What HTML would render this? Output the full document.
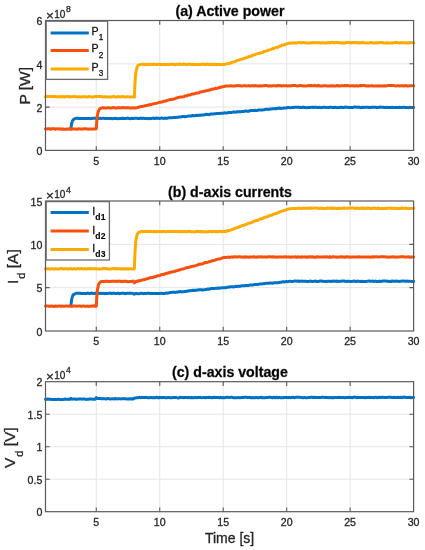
<!DOCTYPE html><html><head><meta charset="utf-8"><style>html,body{margin:0;padding:0;background:#fff;}svg{display:block;}</style></head><body>
<svg width="425" height="550" viewBox="0 0 425 550" font-family='"Liberation Sans", Arial, Helvetica, sans-serif'>
<style>text{stroke:#262626;stroke-width:0.30px;}</style>
<rect width="425" height="550" fill="#fff"/>
<path d="M96.27,20.50V150.40M159.74,20.50V150.40M223.20,20.50V150.40M286.67,20.50V150.40M350.13,20.50V150.40M45.50,107.10H413.60M45.50,63.80H413.60" stroke="#e5e5e5" stroke-width="1" fill="none"/>
<path d="M70.3,129.1L70.9,129.1L71.2,126.4L71.5,124.4L71.8,122.8L72.2,121.6L72.5,120.9L72.8,120.3L73.1,120.0L73.4,119.7L73.7,119.4L74.1,119.2L74.4,119.0L74.7,118.8L75.0,118.7L75.3,118.6L75.6,118.5L76.0,118.4L76.3,118.3L76.6,118.3L76.9,118.2L77.2,118.2L77.6,118.3L77.9,118.4L78.2,118.5L78.5,118.6L78.8,118.6L79.1,118.5L79.5,118.4L79.8,118.4L80.1,118.4L80.4,118.5L80.7,118.5L81.0,118.5L81.4,118.6L81.7,118.6L82.0,118.6L82.3,118.6L82.6,118.6L82.9,118.6L83.3,118.6L83.6,118.5L83.9,118.6L84.2,118.6L84.5,118.6L84.8,118.7L85.2,118.6L85.5,118.5L85.8,118.4L86.1,118.3L86.4,118.4L86.8,118.5L87.1,118.5L87.4,118.6L87.7,118.5L88.0,118.5L88.3,118.4L88.7,118.4L89.0,118.4L89.3,118.5L89.6,118.6L89.9,118.7L91.2,118.6L92.5,118.2L93.7,118.2L95.0,118.2L96.3,118.7L96.6,118.6L96.9,118.5L97.2,118.4L97.5,118.4L97.9,118.4L98.2,118.4L98.5,118.4L98.8,118.5L99.1,118.4L99.4,118.4L99.8,118.3L100.1,118.3L100.4,118.3L100.7,118.3L101.0,118.4L101.3,118.4L101.7,118.4L102.0,118.4L102.3,118.3L102.6,118.3L102.9,118.3L103.3,118.3L103.6,118.3L103.9,118.3L104.2,118.3L104.5,118.4L104.8,118.4L105.2,118.5L105.5,118.5L105.8,118.5L106.1,118.5L106.4,118.5L106.7,118.5L107.1,118.5L107.4,118.6L107.7,118.6L108.0,118.6L108.3,118.6L108.6,118.5L109.0,118.5L109.3,118.5L109.6,118.6L109.9,118.6L110.2,118.7L110.6,118.6L110.9,118.6L111.2,118.6L111.5,118.6L111.8,118.6L112.1,118.7L112.5,118.7L112.8,118.7L113.1,118.6L113.4,118.6L113.7,118.6L114.0,118.5L114.4,118.4L114.7,118.4L115.0,118.3L115.3,118.2L116.6,118.6L117.9,118.7L119.1,118.6L120.4,118.4L121.7,118.5L122.9,118.2L124.2,118.6L125.5,118.4L126.7,118.3L128.0,118.1L129.3,118.6L130.5,118.7L131.8,118.2L133.1,118.6L134.4,118.3L134.7,118.3L135.0,118.3L135.3,118.2L135.6,118.2L135.9,118.2L136.3,118.2L136.6,118.3L136.9,118.3L137.2,118.3L137.5,118.4L137.8,118.5L138.2,118.6L138.5,118.6L138.8,118.6L139.1,118.6L139.4,118.6L139.7,118.5L140.1,118.4L140.4,118.3L140.7,118.1L141.0,118.2L141.3,118.3L141.7,118.4L142.0,118.5L142.3,118.4L142.6,118.3L142.9,118.2L143.2,118.1L143.6,118.2L143.9,118.3L144.2,118.4L144.5,118.5L144.8,118.5L145.1,118.4L145.5,118.4L145.8,118.3L146.1,118.4L146.4,118.5L146.7,118.5L147.0,118.6L147.4,118.6L147.7,118.7L148.0,118.7L148.3,118.7L148.6,118.6L148.9,118.5L149.3,118.5L149.6,118.4L149.9,118.5L150.2,118.6L150.5,118.6L150.9,118.7L151.2,118.6L151.5,118.5L151.8,118.4L152.1,118.3L152.4,118.3L152.8,118.2L153.1,118.2L153.4,118.1L154.7,118.5L155.9,118.1L157.2,118.2L158.5,118.3L159.7,118.5L160.1,118.4L160.4,118.3L160.7,118.3L161.0,118.2L161.3,118.1L161.6,118.1L162.0,118.1L162.3,118.1L162.6,118.2L162.9,118.3L163.2,118.4L163.5,118.5L163.9,118.4L164.2,118.3L164.5,118.2L164.8,118.1L165.1,118.1L165.4,118.2L165.8,118.3L166.1,118.4L166.4,118.3L166.7,118.3L167.0,118.3L167.4,118.2L167.7,118.1L168.0,118.0L168.3,117.9L168.6,117.8L168.9,117.8L169.3,117.8L169.6,117.8L169.9,117.8L170.2,117.7L170.5,117.7L170.8,117.7L171.2,117.7L171.5,117.7L171.8,117.7L172.1,117.7L172.4,117.7L172.7,117.6L173.1,117.6L173.4,117.6L173.7,117.5L174.0,117.5L174.3,117.5L174.7,117.4L175.0,117.4L175.3,117.4L175.6,117.4L175.9,117.3L176.2,117.3L176.6,117.3L176.9,117.4L177.2,117.4L177.5,117.4L177.8,117.3L178.1,117.2L178.5,117.1L178.8,117.0L180.0,116.9L181.3,116.9L182.6,116.5L183.9,116.5L185.1,116.8L186.4,116.4L187.7,116.3L188.9,115.9L190.2,116.0L191.5,116.0L192.7,115.5L194.0,115.8L195.3,115.7L196.5,115.2L197.8,115.5L199.1,115.2L200.4,115.3L201.6,115.0L202.9,115.1L204.2,115.0L205.4,114.4L206.7,114.3L208.0,114.6L209.2,114.7L210.5,114.1L211.8,114.1L213.0,114.1L214.3,113.8L215.6,113.8L216.9,113.6L218.1,113.5L219.4,113.6L220.7,113.3L221.9,113.2L223.2,113.3L223.5,113.2L223.8,113.1L224.2,112.9L224.5,112.8L224.8,112.8L225.1,112.9L225.4,112.9L225.7,113.0L226.1,113.0L226.4,113.0L226.7,113.0L227.0,113.0L227.3,112.9L227.6,112.8L228.0,112.7L228.3,112.6L228.6,112.6L228.9,112.5L229.2,112.5L229.6,112.5L229.9,112.5L230.2,112.6L230.5,112.6L230.8,112.7L231.1,112.6L231.5,112.5L231.8,112.4L232.1,112.2L232.4,112.2L232.7,112.2L233.0,112.1L233.4,112.1L233.7,112.1L234.0,112.1L234.3,112.1L234.6,112.1L234.9,112.2L235.3,112.2L235.6,112.2L235.9,112.2L236.2,112.1L236.5,112.0L236.8,111.8L237.2,111.7L237.5,111.7L237.8,111.7L238.1,111.7L238.4,111.7L238.8,111.7L239.1,111.7L239.4,111.7L239.7,111.6L240.0,111.7L240.3,111.7L240.7,111.8L241.0,111.8L241.3,111.7L241.6,111.7L241.9,111.6L242.2,111.5L243.5,111.6L244.8,111.1L246.1,111.1L247.3,111.2L248.6,111.2L249.9,110.8L251.1,110.6L252.4,110.4L253.7,110.6L254.9,110.2L256.2,110.5L257.5,110.4L258.7,109.9L260.0,109.9L261.3,110.1L262.6,109.9L263.8,109.8L265.1,109.5L266.4,109.2L267.6,109.2L268.9,109.4L270.2,109.0L271.4,108.9L272.7,108.8L274.0,108.7L275.2,108.6L276.5,108.8L277.8,108.2L279.1,108.0L280.3,108.5L281.6,108.3L282.9,108.3L284.1,107.9L285.4,108.1L286.7,107.9L287.0,107.8L287.3,107.7L287.6,107.5L287.9,107.4L288.3,107.5L288.6,107.5L288.9,107.6L289.2,107.7L289.5,107.7L289.8,107.7L290.2,107.7L290.5,107.7L290.8,107.7L291.1,107.6L291.4,107.6L291.7,107.6L292.1,107.5L292.4,107.5L292.7,107.5L293.0,107.4L293.3,107.4L293.7,107.4L294.0,107.3L294.3,107.3L294.6,107.3L294.9,107.3L295.2,107.3L295.6,107.3L295.9,107.3L296.2,107.3L296.5,107.3L296.8,107.2L297.1,107.2L297.5,107.2L297.8,107.2L298.1,107.1L298.4,107.2L298.7,107.3L299.0,107.4L299.4,107.5L299.7,107.4L300.0,107.4L300.3,107.3L300.6,107.3L300.9,107.4L301.3,107.4L301.6,107.5L301.9,107.6L302.2,107.5L302.5,107.4L302.9,107.2L303.2,107.1L303.5,107.3L303.8,107.4L304.1,107.5L304.4,107.6L304.8,107.6L305.1,107.6L305.4,107.5L305.7,107.5L307.0,107.7L308.2,107.6L309.5,107.6L310.8,107.4L312.1,107.1L313.3,107.5L314.6,107.2L315.9,107.3L317.1,107.5L318.4,107.4L319.7,107.3L320.9,107.7L322.2,107.5L323.5,107.3L324.7,107.3L326.0,107.6L327.3,107.4L328.6,107.6L329.8,107.3L331.1,107.2L332.4,107.4L333.6,107.6L334.9,107.2L336.2,107.6L337.4,107.7L338.7,107.6L340.0,107.6L341.2,107.1L342.5,107.5L343.8,107.6L345.1,107.1L346.3,107.3L347.6,107.3L348.9,107.4L350.1,107.4L351.4,107.4L352.7,107.6L353.9,107.1L355.2,107.1L356.5,107.2L357.8,107.2L359.0,107.1L360.3,107.7L361.6,107.6L362.8,107.2L364.1,107.4L365.4,107.3L366.6,107.3L367.9,107.3L369.2,107.5L370.4,107.5L371.7,107.3L373.0,107.2L374.3,107.3L375.5,107.2L376.8,107.4L378.1,107.5L379.3,107.3L380.6,107.1L381.9,107.2L383.1,107.3L384.4,107.5L385.7,107.6L386.9,107.3L388.2,107.6L389.5,107.5L390.8,107.4L392.0,107.3L393.3,107.4L394.6,107.5L395.8,107.4L397.1,107.5L398.4,107.4L399.6,107.2L400.9,107.4L402.2,107.5L403.4,107.1L404.7,107.4L406.0,107.4L407.3,107.6L408.5,107.7L409.8,107.3L411.1,107.6L412.3,107.6L413.6,107.4" stroke="#0072c6" stroke-width="3.00" fill="none" stroke-linejoin="round" stroke-linecap="round"/>
<path d="M45.5,129.0L46.8,129.1L48.0,128.7L49.3,128.8L50.6,129.2L51.8,128.7L53.1,128.8L54.4,128.8L55.7,129.2L56.9,128.8L58.2,128.7L59.5,129.2L60.7,128.8L62.0,129.2L63.3,129.1L64.5,129.2L65.8,129.3L67.1,129.0L68.3,129.2L69.6,128.7L70.9,129.2L71.2,129.1L71.5,129.1L71.8,129.0L72.2,129.0L72.5,129.0L72.8,129.1L73.1,129.1L73.4,129.1L73.7,129.0L74.1,128.9L74.4,128.9L74.7,128.8L75.0,128.9L75.3,129.0L75.6,129.1L76.0,129.1L76.3,129.2L76.6,129.2L76.9,129.2L77.2,129.3L77.6,129.1L77.9,129.0L78.2,128.9L78.5,128.7L78.8,128.8L79.1,128.8L79.5,128.9L79.8,128.9L80.1,128.9L80.4,129.0L80.7,129.0L81.0,129.0L81.4,129.1L81.7,129.1L82.0,129.2L82.3,129.2L82.6,129.1L82.9,129.0L83.3,128.9L83.6,128.8L83.9,128.8L84.2,128.8L84.5,128.8L84.8,128.8L85.2,128.8L85.5,128.8L85.8,128.8L86.1,128.8L86.4,128.9L86.8,129.0L87.1,129.0L87.4,129.1L87.7,129.1L88.0,129.1L88.3,129.1L88.7,129.2L89.0,129.1L89.3,129.0L89.6,129.0L89.9,128.9L91.2,128.9L92.5,128.9L93.7,128.9L95.0,129.0L96.3,128.7L96.6,123.7L96.9,119.8L97.2,117.0L97.5,114.8L97.9,113.2L98.2,111.9L98.5,111.0L98.8,110.4L99.1,109.7L99.4,109.2L99.8,108.8L100.1,108.5L100.4,108.4L100.7,108.3L101.0,108.2L101.3,108.2L101.7,108.0L102.0,107.9L102.3,107.8L102.6,107.7L102.9,107.7L103.3,107.8L103.6,107.9L103.9,107.9L104.2,107.9L104.5,107.9L104.8,108.0L105.2,108.0L105.5,107.9L105.8,107.9L106.1,107.9L106.4,107.9L106.7,107.9L107.1,107.9L107.4,107.8L107.7,107.8L108.0,107.8L108.3,107.8L108.6,107.8L109.0,107.8L109.3,107.8L109.6,107.8L109.9,107.9L110.2,107.9L110.6,107.9L110.9,108.0L111.2,108.0L111.5,108.0L111.8,107.9L112.1,107.8L112.5,107.7L112.8,107.6L113.1,107.6L113.4,107.6L113.7,107.6L114.0,107.6L114.4,107.7L114.7,107.8L115.0,107.9L115.3,107.9L116.6,108.0L117.9,107.8L119.1,107.8L120.4,107.9L121.7,107.6L122.9,107.7L124.2,107.6L125.5,107.9L126.7,107.7L128.0,107.6L129.3,107.9L130.5,108.1L131.8,107.7L133.1,107.9L134.4,107.7L134.7,107.8L135.0,107.9L135.3,107.9L135.6,108.0L135.9,107.9L136.3,107.8L136.6,107.7L136.9,107.7L137.2,107.6L137.5,107.5L137.8,107.4L138.2,107.3L138.5,107.2L138.8,107.1L139.1,107.1L139.4,107.0L139.7,106.9L140.1,106.8L140.4,106.7L140.7,106.6L141.0,106.6L141.3,106.6L141.7,106.6L142.0,106.6L142.3,106.5L142.6,106.4L142.9,106.4L143.2,106.3L143.6,106.2L143.9,106.1L144.2,105.9L144.5,105.8L144.8,105.8L145.1,105.7L145.5,105.7L145.8,105.7L146.1,105.6L146.4,105.5L146.7,105.4L147.0,105.3L147.4,105.3L147.7,105.3L148.0,105.3L148.3,105.3L148.6,105.1L148.9,104.9L149.3,104.8L149.6,104.6L149.9,104.6L150.2,104.7L150.5,104.7L150.9,104.8L151.2,104.6L151.5,104.5L151.8,104.3L152.1,104.2L152.4,104.1L152.8,104.0L153.1,104.0L153.4,103.9L154.7,103.5L155.9,103.4L157.2,103.1L158.5,102.6L159.7,102.3L160.1,102.2L160.4,102.2L160.7,102.2L161.0,102.1L161.3,102.1L161.6,102.0L162.0,101.9L162.3,101.9L162.6,101.7L162.9,101.6L163.2,101.4L163.5,101.3L163.9,101.3L164.2,101.2L164.5,101.2L164.8,101.2L165.1,101.1L165.4,101.1L165.8,101.0L166.1,101.0L166.4,100.9L166.7,100.7L167.0,100.5L167.4,100.4L167.7,100.3L168.0,100.2L168.3,100.1L168.6,99.9L168.9,99.9L169.3,99.8L169.6,99.7L169.9,99.6L170.2,99.6L170.5,99.6L170.8,99.6L171.2,99.6L171.5,99.5L171.8,99.4L172.1,99.3L172.4,99.3L172.7,99.2L173.1,99.2L173.4,99.2L173.7,99.1L174.0,99.0L174.3,98.9L174.7,98.8L175.0,98.7L175.3,98.6L175.6,98.4L175.9,98.2L176.2,98.1L176.6,98.0L176.9,97.9L177.2,97.8L177.5,97.7L177.8,97.6L178.1,97.6L178.5,97.5L178.8,97.4L180.0,97.1L181.3,97.1L182.6,96.9L183.9,96.6L185.1,95.9L186.4,95.9L187.7,95.3L188.9,95.0L190.2,94.9L191.5,94.2L192.7,93.9L194.0,94.0L195.3,93.4L196.5,93.1L197.8,92.9L199.1,92.7L200.4,91.9L201.6,91.8L202.9,91.6L204.2,91.3L205.4,90.8L206.7,90.7L208.0,90.6L209.2,90.0L210.5,89.8L211.8,89.2L213.0,89.0L214.3,88.9L215.6,88.2L216.9,88.4L218.1,88.1L219.4,87.3L220.7,87.5L221.9,86.8L223.2,86.7L223.5,86.7L223.8,86.6L224.2,86.5L224.5,86.5L224.8,86.4L225.1,86.2L225.4,86.1L225.7,86.0L226.1,86.1L226.4,86.1L226.7,86.1L227.0,86.1L227.3,86.1L227.6,86.1L228.0,86.1L228.3,86.1L228.6,86.1L228.9,86.1L229.2,86.1L229.6,86.1L229.9,86.0L230.2,85.9L230.5,85.8L230.8,85.7L231.1,85.8L231.5,85.9L231.8,85.9L232.1,86.0L232.4,86.0L232.7,86.1L233.0,86.1L233.4,86.1L233.7,86.1L234.0,86.0L234.3,86.0L234.6,85.9L234.9,85.9L235.3,85.9L235.6,85.9L235.9,85.8L236.2,85.8L236.5,85.7L236.8,85.6L237.2,85.6L237.5,85.6L237.8,85.7L238.1,85.7L238.4,85.8L238.8,85.8L239.1,85.8L239.4,85.7L239.7,85.7L240.0,85.8L240.3,85.8L240.7,85.9L241.0,85.9L241.3,85.9L241.6,85.9L241.9,85.9L242.2,85.9L243.5,85.8L244.8,85.6L246.1,85.9L247.3,85.9L248.6,85.6L249.9,86.0L251.1,85.9L252.4,85.6L253.7,86.1L254.9,85.6L256.2,85.7L257.5,85.9L258.7,85.9L260.0,85.8L261.3,85.9L262.6,85.8L263.8,85.7L265.1,85.6L266.4,85.5L267.6,85.9L268.9,86.0L270.2,85.8L271.4,85.9L272.7,85.7L274.0,85.7L275.2,85.7L276.5,86.0L277.8,85.5L279.1,85.8L280.3,85.6L281.6,86.0L282.9,85.7L284.1,85.7L285.4,85.7L286.7,85.8L287.0,85.9L287.3,85.9L287.6,85.9L287.9,86.0L288.3,85.9L288.6,85.8L288.9,85.8L289.2,85.7L289.5,85.8L289.8,85.9L290.2,85.9L290.5,86.0L290.8,85.9L291.1,85.8L291.4,85.7L291.7,85.6L292.1,85.6L292.4,85.6L292.7,85.6L293.0,85.7L293.3,85.6L293.7,85.6L294.0,85.6L294.3,85.6L294.6,85.6L294.9,85.6L295.2,85.6L295.6,85.6L295.9,85.7L296.2,85.8L296.5,85.9L296.8,86.0L297.1,86.0L297.5,86.0L297.8,85.9L298.1,85.9L298.4,85.9L298.7,85.8L299.0,85.7L299.4,85.6L299.7,85.6L300.0,85.6L300.3,85.6L300.6,85.6L300.9,85.6L301.3,85.7L301.6,85.7L301.9,85.7L302.2,85.8L302.5,85.8L302.9,85.9L303.2,85.9L303.5,86.0L303.8,86.0L304.1,86.0L304.4,86.0L304.8,86.0L305.1,86.0L305.4,86.0L305.7,85.9L307.0,85.9L308.2,85.6L309.5,85.7L310.8,85.6L312.1,85.8L313.3,85.8L314.6,85.6L315.9,85.7L317.1,86.0L318.4,85.5L319.7,86.0L320.9,86.0L322.2,86.1L323.5,85.7L324.7,85.8L326.0,85.8L327.3,85.9L328.6,86.1L329.8,85.9L331.1,85.7L332.4,86.0L333.6,85.8L334.9,85.9L336.2,85.9L337.4,85.5L338.7,86.0L340.0,85.9L341.2,85.8L342.5,85.8L343.8,85.8L345.1,85.6L346.3,85.8L347.6,85.5L348.9,85.8L350.1,85.9L351.4,85.8L352.7,85.8L353.9,86.1L355.2,86.0L356.5,85.6L357.8,86.0L359.0,85.9L360.3,85.5L361.6,85.7L362.8,85.6L364.1,85.5L365.4,85.8L366.6,86.1L367.9,85.7L369.2,86.0L370.4,85.9L371.7,85.6L373.0,86.0L374.3,85.9L375.5,86.1L376.8,85.9L378.1,85.9L379.3,85.7L380.6,86.0L381.9,86.1L383.1,86.0L384.4,85.8L385.7,86.0L386.9,85.8L388.2,85.6L389.5,85.5L390.8,85.5L392.0,85.6L393.3,85.6L394.6,85.8L395.8,85.9L397.1,85.8L398.4,85.8L399.6,85.9L400.9,85.7L402.2,85.8L403.4,86.0L404.7,85.7L406.0,85.6L407.3,86.0L408.5,85.9L409.8,85.7L411.1,85.7L412.3,85.8L413.6,85.8" stroke="#f74f0c" stroke-width="3.00" fill="none" stroke-linejoin="round" stroke-linecap="round"/>
<path d="M45.5,96.8L46.8,96.6L48.0,96.5L49.3,96.6L50.6,96.6L51.8,96.8L53.1,96.5L54.4,96.5L55.7,96.8L56.9,96.7L58.2,96.9L59.5,96.5L60.7,96.7L62.0,96.7L63.3,96.5L64.5,97.1L65.8,96.6L67.1,96.6L68.3,96.8L69.6,96.6L70.9,96.9L71.2,96.8L71.5,96.8L71.8,96.7L72.2,96.7L72.5,96.7L72.8,96.6L73.1,96.6L73.4,96.6L73.7,96.6L74.1,96.6L74.4,96.5L74.7,96.5L75.0,96.6L75.3,96.7L75.6,96.8L76.0,96.9L76.3,96.9L76.6,96.8L76.9,96.7L77.2,96.7L77.6,96.7L77.9,96.8L78.2,96.9L78.5,97.0L78.8,96.9L79.1,96.9L79.5,96.8L79.8,96.8L80.1,96.8L80.4,96.9L80.7,97.0L81.0,97.1L81.4,97.0L81.7,96.9L82.0,96.8L82.3,96.7L82.6,96.7L82.9,96.7L83.3,96.7L83.6,96.6L83.9,96.7L84.2,96.7L84.5,96.7L84.8,96.7L85.2,96.7L85.5,96.8L85.8,96.9L86.1,97.0L86.4,97.0L86.8,96.9L87.1,96.9L87.4,96.9L87.7,96.8L88.0,96.8L88.3,96.7L88.7,96.7L89.0,96.7L89.3,96.6L89.6,96.6L89.9,96.6L91.2,96.9L92.5,97.1L93.7,96.9L95.0,96.5L96.3,96.5L96.6,96.5L96.9,96.5L97.2,96.5L97.5,96.6L97.9,96.6L98.2,96.6L98.5,96.6L98.8,96.6L99.1,96.6L99.4,96.6L99.8,96.5L100.1,96.5L100.4,96.5L100.7,96.5L101.0,96.5L101.3,96.5L101.7,96.6L102.0,96.7L102.3,96.8L102.6,96.9L102.9,96.9L103.3,97.0L103.6,97.0L103.9,97.0L104.2,96.9L104.5,96.8L104.8,96.7L105.2,96.6L105.5,96.7L105.8,96.9L106.1,97.0L106.4,97.1L106.7,97.0L107.1,96.9L107.4,96.9L107.7,96.8L108.0,96.8L108.3,96.9L108.6,96.9L109.0,97.0L109.3,97.0L109.6,97.0L109.9,97.0L110.2,97.1L110.6,97.1L110.9,97.1L111.2,97.1L111.5,97.1L111.8,96.9L112.1,96.8L112.5,96.7L112.8,96.5L113.1,96.6L113.4,96.6L113.7,96.6L114.0,96.7L114.4,96.7L114.7,96.8L115.0,96.8L115.3,96.9L116.6,97.1L117.9,96.6L119.1,96.7L120.4,97.0L121.7,96.6L122.9,96.7L124.2,96.7L125.5,96.9L126.7,97.1L128.0,96.6L129.3,96.9L130.5,96.9L131.8,97.0L133.1,96.8L134.4,97.1L134.7,89.1L135.0,83.1L135.3,78.5L135.6,75.0L135.9,72.4L136.3,70.5L136.6,69.0L136.9,67.9L137.2,67.0L137.5,66.3L137.8,65.8L138.2,65.4L138.5,65.2L138.8,65.1L139.1,65.0L139.4,64.9L139.7,64.8L140.1,64.7L140.4,64.6L140.7,64.5L141.0,64.5L141.3,64.4L141.7,64.3L142.0,64.3L142.3,64.3L142.6,64.3L142.9,64.2L143.2,64.2L143.6,64.3L143.9,64.4L144.2,64.5L144.5,64.5L144.8,64.5L145.1,64.5L145.5,64.5L145.8,64.5L146.1,64.5L146.4,64.5L146.7,64.5L147.0,64.5L147.4,64.5L147.7,64.4L148.0,64.4L148.3,64.3L148.6,64.3L148.9,64.4L149.3,64.4L149.6,64.4L149.9,64.3L150.2,64.3L150.5,64.2L150.9,64.2L151.2,64.3L151.5,64.4L151.8,64.4L152.1,64.5L152.4,64.4L152.8,64.3L153.1,64.2L153.4,64.1L154.7,64.4L155.9,64.6L157.2,64.5L158.5,64.2L159.7,64.2L160.1,64.3L160.4,64.4L160.7,64.5L161.0,64.6L161.3,64.6L161.6,64.5L162.0,64.5L162.3,64.5L162.6,64.5L162.9,64.6L163.2,64.6L163.5,64.6L163.9,64.6L164.2,64.6L164.5,64.6L164.8,64.6L165.1,64.6L165.4,64.5L165.8,64.4L166.1,64.4L166.4,64.4L166.7,64.5L167.0,64.6L167.4,64.6L167.7,64.6L168.0,64.6L168.3,64.6L168.6,64.5L168.9,64.5L169.3,64.4L169.6,64.4L169.9,64.3L170.2,64.3L170.5,64.3L170.8,64.3L171.2,64.3L171.5,64.3L171.8,64.2L172.1,64.2L172.4,64.1L172.7,64.2L173.1,64.2L173.4,64.3L173.7,64.3L174.0,64.4L174.3,64.5L174.7,64.6L175.0,64.7L175.3,64.5L175.6,64.4L175.9,64.3L176.2,64.2L176.6,64.2L176.9,64.3L177.2,64.4L177.5,64.4L177.8,64.4L178.1,64.3L178.5,64.2L178.8,64.2L180.0,64.1L181.3,64.5L182.6,64.2L183.9,64.1L185.1,64.2L186.4,64.5L187.7,64.5L188.9,64.1L190.2,64.2L191.5,64.7L192.7,64.2L194.0,64.4L195.3,64.4L196.5,64.6L197.8,64.5L199.1,64.6L200.4,64.4L201.6,64.2L202.9,64.2L204.2,64.1L205.4,64.6L206.7,64.2L208.0,64.1L209.2,64.7L210.5,64.2L211.8,64.6L213.0,64.2L214.3,64.4L215.6,64.2L216.9,64.6L218.1,64.5L219.4,64.5L220.7,64.6L221.9,64.6L223.2,64.3L223.5,64.3L223.8,64.4L224.2,64.4L224.5,64.4L224.8,64.3L225.1,64.3L225.4,64.2L225.7,64.1L226.1,64.0L226.4,63.9L226.7,63.7L227.0,63.6L227.3,63.7L227.6,63.7L228.0,63.7L228.3,63.7L228.6,63.6L228.9,63.5L229.2,63.4L229.6,63.2L229.9,63.2L230.2,63.1L230.5,63.0L230.8,63.0L231.1,62.8L231.5,62.6L231.8,62.4L232.1,62.2L232.4,62.2L232.7,62.1L233.0,62.1L233.4,62.0L233.7,61.9L234.0,61.8L234.3,61.7L234.6,61.5L234.9,61.5L235.3,61.4L235.6,61.3L235.9,61.3L236.2,61.1L236.5,60.9L236.8,60.7L237.2,60.5L237.5,60.4L237.8,60.3L238.1,60.3L238.4,60.2L238.8,60.1L239.1,60.0L239.4,59.9L239.7,59.8L240.0,59.7L240.3,59.5L240.7,59.3L241.0,59.2L241.3,59.1L241.6,59.1L241.9,59.1L242.2,59.0L243.5,58.7L244.8,58.1L246.1,57.8L247.3,57.3L248.6,56.7L249.9,56.3L251.1,56.3L252.4,55.4L253.7,55.1L254.9,54.4L256.2,54.1L257.5,53.6L258.7,53.6L260.0,53.1L261.3,52.7L262.6,52.4L263.8,51.7L265.1,51.5L266.4,50.8L267.6,50.3L268.9,50.2L270.2,49.7L271.4,49.3L272.7,48.6L274.0,48.4L275.2,47.7L276.5,47.6L277.8,47.2L279.1,46.3L280.3,46.3L281.6,45.4L282.9,44.9L284.1,44.9L285.4,44.2L286.7,43.9L287.0,43.8L287.3,43.7L287.6,43.7L287.9,43.6L288.3,43.4L288.6,43.3L288.9,43.2L289.2,43.0L289.5,43.1L289.8,43.1L290.2,43.2L290.5,43.3L290.8,43.2L291.1,43.1L291.4,43.0L291.7,42.9L292.1,42.9L292.4,42.9L292.7,42.9L293.0,42.9L293.3,42.9L293.7,42.9L294.0,42.8L294.3,42.8L294.6,42.9L294.9,42.9L295.2,43.0L295.6,43.0L295.9,43.0L296.2,43.0L296.5,43.0L296.8,43.0L297.1,42.9L297.5,42.8L297.8,42.8L298.1,42.7L298.4,42.7L298.7,42.6L299.0,42.6L299.4,42.6L299.7,42.6L300.0,42.6L300.3,42.7L300.6,42.7L300.9,42.7L301.3,42.7L301.6,42.7L301.9,42.8L302.2,42.7L302.5,42.7L302.9,42.6L303.2,42.6L303.5,42.6L303.8,42.6L304.1,42.6L304.4,42.6L304.8,42.7L305.1,42.8L305.4,42.9L305.7,43.0L307.0,42.9L308.2,43.1L309.5,43.1L310.8,43.0L312.1,42.7L313.3,42.6L314.6,42.7L315.9,42.8L317.1,42.8L318.4,42.8L319.7,42.7L320.9,43.0L322.2,42.7L323.5,42.8L324.7,43.0L326.0,43.0L327.3,42.7L328.6,42.6L329.8,43.0L331.1,42.5L332.4,42.6L333.6,42.8L334.9,42.8L336.2,42.6L337.4,42.5L338.7,42.6L340.0,43.0L341.2,42.8L342.5,43.1L343.8,43.0L345.1,43.1L346.3,42.5L347.6,42.6L348.9,42.5L350.1,42.8L351.4,42.7L352.7,42.5L353.9,42.8L355.2,42.6L356.5,42.7L357.8,42.6L359.0,43.0L360.3,42.8L361.6,42.7L362.8,42.5L364.1,42.8L365.4,42.9L366.6,42.9L367.9,43.0L369.2,43.0L370.4,42.6L371.7,42.6L373.0,43.0L374.3,43.0L375.5,42.8L376.8,43.0L378.1,42.8L379.3,42.7L380.6,42.6L381.9,42.5L383.1,42.9L384.4,43.0L385.7,43.0L386.9,42.8L388.2,42.9L389.5,43.1L390.8,43.0L392.0,42.9L393.3,42.7L394.6,42.8L395.8,42.6L397.1,42.6L398.4,42.9L399.6,43.1L400.9,42.8L402.2,42.7L403.4,42.7L404.7,42.8L406.0,43.0L407.3,42.8L408.5,43.1L409.8,42.6L411.1,42.7L412.3,42.8L413.6,42.8" stroke="#fdaa00" stroke-width="3.00" fill="none" stroke-linejoin="round" stroke-linecap="round"/>
<path d="M96.27,150.40v-4.2M96.27,20.50v4.2M159.74,150.40v-4.2M159.74,20.50v4.2M223.20,150.40v-4.2M223.20,20.50v4.2M286.67,150.40v-4.2M286.67,20.50v4.2M350.13,150.40v-4.2M350.13,20.50v4.2M45.50,107.10h4.2M413.60,107.10h-4.2M45.50,63.80h4.2M413.60,63.80h-4.2" stroke="#5a5a5a" stroke-width="1.1" fill="none"/>
<rect x="45.50" y="20.50" width="368.10" height="129.90" fill="none" stroke="#5a5a5a" stroke-width="1.2"/>
<text x="96.27" y="164.60" font-size="10.60" fill="#262626" text-anchor="middle">5</text>
<text x="159.74" y="164.60" font-size="10.60" fill="#262626" text-anchor="middle">10</text>
<text x="223.20" y="164.60" font-size="10.60" fill="#262626" text-anchor="middle">15</text>
<text x="286.67" y="164.60" font-size="10.60" fill="#262626" text-anchor="middle">20</text>
<text x="350.13" y="164.60" font-size="10.60" fill="#262626" text-anchor="middle">25</text>
<text x="413.60" y="164.60" font-size="10.60" fill="#262626" text-anchor="middle">30</text>
<text x="42.30" y="155.10" font-size="10.60" fill="#262626" text-anchor="end">0</text>
<text x="42.30" y="111.80" font-size="10.60" fill="#262626" text-anchor="end">2</text>
<text x="42.30" y="68.50" font-size="10.60" fill="#262626" text-anchor="end">4</text>
<text x="42.30" y="25.20" font-size="10.60" fill="#262626" text-anchor="end">6</text>
<text y="17.70" fill="#262626"><tspan x="45.9" dy="1.8" font-size="13.5">×</tspan><tspan x="54.3" dy="-1.8" font-size="10">10</tspan><tspan x="65.9" font-size="8.6" dy="-5.5">8</tspan></text>
<text x="229.95" y="16.10" font-size="14.20" font-weight="bold" fill="#000" stroke="#000" stroke-width="0.25" text-anchor="middle">(a) Active power</text>
<path d="M96.27,201.00V331.00M159.74,201.00V331.00M223.20,201.00V331.00M286.67,201.00V331.00M350.13,201.00V331.00M45.50,287.67H413.60M45.50,244.33H413.60" stroke="#e5e5e5" stroke-width="1" fill="none"/>
<path d="M70.3,306.0L70.9,306.0L71.2,302.9L71.5,300.5L71.8,298.7L72.2,297.4L72.5,296.4L72.8,295.6L73.1,295.0L73.4,294.6L73.7,294.4L74.1,294.3L74.4,294.2L74.7,294.1L75.0,293.9L75.3,293.7L75.6,293.5L76.0,293.3L76.3,293.3L76.6,293.3L76.9,293.3L77.2,293.3L77.6,293.3L77.9,293.3L78.2,293.2L78.5,293.2L78.8,293.2L79.1,293.2L79.5,293.2L79.8,293.2L80.1,293.2L80.4,293.3L80.7,293.4L81.0,293.4L81.4,293.4L81.7,293.5L82.0,293.5L82.3,293.5L82.6,293.6L82.9,293.6L83.3,293.6L83.6,293.6L83.9,293.6L84.2,293.5L84.5,293.5L84.8,293.5L85.2,293.5L85.5,293.5L85.8,293.6L86.1,293.6L86.4,293.5L86.8,293.3L87.1,293.2L87.4,293.1L87.7,293.1L88.0,293.2L88.3,293.2L88.7,293.3L89.0,293.4L89.3,293.5L89.6,293.6L89.9,293.7L91.2,293.1L92.5,293.3L93.7,293.4L95.0,293.3L96.3,293.4L96.6,293.4L96.9,293.3L97.2,293.2L97.5,293.1L97.9,293.2L98.2,293.2L98.5,293.2L98.8,293.2L99.1,293.3L99.4,293.5L99.8,293.6L100.1,293.7L100.4,293.6L100.7,293.4L101.0,293.3L101.3,293.2L101.7,293.3L102.0,293.4L102.3,293.5L102.6,293.6L102.9,293.5L103.3,293.4L103.6,293.3L103.9,293.2L104.2,293.3L104.5,293.5L104.8,293.6L105.2,293.7L105.5,293.6L105.8,293.6L106.1,293.6L106.4,293.5L106.7,293.5L107.1,293.5L107.4,293.5L107.7,293.5L108.0,293.4L108.3,293.3L108.6,293.3L109.0,293.2L109.3,293.2L109.6,293.2L109.9,293.1L110.2,293.1L110.6,293.2L110.9,293.3L111.2,293.4L111.5,293.6L111.8,293.5L112.1,293.4L112.5,293.3L112.8,293.2L113.1,293.2L113.4,293.2L113.7,293.2L114.0,293.2L114.4,293.3L114.7,293.4L115.0,293.5L115.3,293.6L116.6,293.6L117.9,293.1L119.1,293.7L120.4,293.4L121.7,293.3L122.9,293.2L124.2,293.3L125.5,293.7L126.7,293.3L128.0,293.2L129.3,293.2L130.5,293.2L131.8,293.3L133.1,293.6L134.4,294.3L134.7,294.0L135.0,293.7L135.3,293.5L135.6,293.4L135.9,293.5L136.3,293.5L136.6,293.6L136.9,293.7L137.2,293.7L137.5,293.7L137.8,293.7L138.2,293.7L138.5,293.7L138.8,293.7L139.1,293.7L139.4,293.7L139.7,293.6L140.1,293.5L140.4,293.4L140.7,293.2L141.0,293.3L141.3,293.3L141.7,293.3L142.0,293.3L142.3,293.4L142.6,293.5L142.9,293.6L143.2,293.7L143.6,293.6L143.9,293.5L144.2,293.5L144.5,293.4L144.8,293.4L145.1,293.5L145.5,293.5L145.8,293.5L146.1,293.5L146.4,293.4L146.7,293.3L147.0,293.3L147.4,293.2L147.7,293.2L148.0,293.2L148.3,293.1L148.6,293.2L148.9,293.2L149.3,293.3L149.6,293.3L149.9,293.4L150.2,293.4L150.5,293.5L150.9,293.5L151.2,293.6L151.5,293.6L151.8,293.6L152.1,293.6L152.4,293.5L152.8,293.5L153.1,293.5L153.4,293.4L154.7,293.4L155.9,293.4L157.2,293.4L158.5,293.4L159.7,293.6L160.1,293.5L160.4,293.4L160.7,293.3L161.0,293.2L161.3,293.2L161.6,293.3L162.0,293.3L162.3,293.4L162.6,293.4L162.9,293.4L163.2,293.5L163.5,293.5L163.9,293.5L164.2,293.4L164.5,293.4L164.8,293.4L165.1,293.2L165.4,293.1L165.8,293.0L166.1,292.9L166.4,293.0L166.7,293.0L167.0,293.1L167.4,293.2L167.7,293.2L168.0,293.1L168.3,293.1L168.6,293.0L168.9,292.9L169.3,292.8L169.6,292.7L169.9,292.5L170.2,292.5L170.5,292.5L170.8,292.5L171.2,292.5L171.5,292.4L171.8,292.4L172.1,292.3L172.4,292.3L172.7,292.3L173.1,292.2L173.4,292.2L173.7,292.1L174.0,292.2L174.3,292.3L174.7,292.4L175.0,292.5L175.3,292.4L175.6,292.3L175.9,292.2L176.2,292.1L176.6,292.1L176.9,292.2L177.2,292.2L177.5,292.2L177.8,292.1L178.1,291.9L178.5,291.8L178.8,291.7L180.0,291.5L181.3,291.9L182.6,291.7L183.9,291.7L185.1,291.4L186.4,291.2L187.7,291.2L188.9,290.7L190.2,290.8L191.5,290.6L192.7,290.3L194.0,290.5L195.3,290.2L196.5,290.2L197.8,290.0L199.1,289.8L200.4,289.7L201.6,289.8L202.9,289.9L204.2,289.7L205.4,289.6L206.7,289.4L208.0,289.0L209.2,289.3L210.5,288.7L211.8,288.5L213.0,288.6L214.3,288.6L215.6,288.3L216.9,288.3L218.1,288.0L219.4,288.3L220.7,287.9L221.9,287.8L223.2,287.7L223.5,287.7L223.8,287.7L224.2,287.7L224.5,287.8L224.8,287.7L225.1,287.7L225.4,287.7L225.7,287.7L226.1,287.6L226.4,287.5L226.7,287.4L227.0,287.3L227.3,287.3L227.6,287.2L228.0,287.2L228.3,287.1L228.6,287.1L228.9,287.1L229.2,287.1L229.6,287.1L229.9,287.0L230.2,286.9L230.5,286.8L230.8,286.7L231.1,286.7L231.5,286.7L231.8,286.7L232.1,286.8L232.4,286.8L232.7,286.8L233.0,286.9L233.4,286.9L233.7,286.9L234.0,286.8L234.3,286.8L234.6,286.7L234.9,286.6L235.3,286.5L235.6,286.3L235.9,286.2L236.2,286.3L236.5,286.4L236.8,286.4L237.2,286.5L237.5,286.4L237.8,286.3L238.1,286.2L238.4,286.1L238.8,286.2L239.1,286.2L239.4,286.3L239.7,286.4L240.0,286.2L240.3,286.1L240.7,286.0L241.0,285.9L241.3,285.8L241.6,285.8L241.9,285.7L242.2,285.7L243.5,285.7L244.8,285.8L246.1,285.4L247.3,285.6L248.6,285.4L249.9,285.0L251.1,284.9L252.4,284.9L253.7,284.7L254.9,284.6L256.2,284.6L257.5,284.6L258.7,284.3L260.0,283.9L261.3,283.9L262.6,283.8L263.8,283.8L265.1,283.4L266.4,283.3L267.6,283.3L268.9,283.2L270.2,282.9L271.4,283.1L272.7,283.2L274.0,282.8L275.2,282.8L276.5,282.8L277.8,282.7L279.1,282.6L280.3,282.2L281.6,282.2L282.9,281.7L284.1,282.1L285.4,281.7L286.7,281.6L287.0,281.6L287.3,281.7L287.6,281.7L287.9,281.7L288.3,281.6L288.6,281.5L288.9,281.4L289.2,281.3L289.5,281.3L289.8,281.3L290.2,281.2L290.5,281.2L290.8,281.3L291.1,281.4L291.4,281.5L291.7,281.6L292.1,281.5L292.4,281.5L292.7,281.4L293.0,281.4L293.3,281.3L293.7,281.2L294.0,281.2L294.3,281.1L294.6,281.1L294.9,281.1L295.2,281.0L295.6,281.0L295.9,281.1L296.2,281.1L296.5,281.2L296.8,281.2L297.1,281.2L297.5,281.1L297.8,281.1L298.1,281.0L298.4,281.1L298.7,281.3L299.0,281.4L299.4,281.5L299.7,281.4L300.0,281.3L300.3,281.2L300.6,281.1L300.9,281.1L301.3,281.1L301.6,281.2L301.9,281.2L302.2,281.2L302.5,281.2L302.9,281.2L303.2,281.2L303.5,281.3L303.8,281.3L304.1,281.3L304.4,281.3L304.8,281.3L305.1,281.3L305.4,281.3L305.7,281.3L307.0,281.4L308.2,281.4L309.5,281.3L310.8,281.1L312.1,281.6L313.3,281.4L314.6,281.1L315.9,281.3L317.1,281.5L318.4,281.6L319.7,281.0L320.9,281.0L322.2,281.3L323.5,281.3L324.7,281.5L326.0,281.5L327.3,281.2L328.6,281.3L329.8,281.3L331.1,281.5L332.4,281.1L333.6,281.2L334.9,281.1L336.2,281.4L337.4,281.0L338.7,281.6L340.0,281.3L341.2,281.3L342.5,281.1L343.8,281.1L345.1,281.3L346.3,281.5L347.6,281.3L348.9,281.2L350.1,281.6L351.4,281.4L352.7,281.3L353.9,281.1L355.2,281.2L356.5,281.5L357.8,281.1L359.0,281.3L360.3,281.4L361.6,281.2L362.8,281.5L364.1,281.5L365.4,281.5L366.6,281.4L367.9,281.1L369.2,281.0L370.4,281.3L371.7,281.2L373.0,281.1L374.3,281.5L375.5,281.1L376.8,281.5L378.1,281.6L379.3,281.1L380.6,281.5L381.9,281.2L383.1,281.1L384.4,281.1L385.7,281.0L386.9,281.3L388.2,281.2L389.5,281.5L390.8,281.5L392.0,281.0L393.3,281.2L394.6,281.2L395.8,281.1L397.1,281.2L398.4,281.2L399.6,281.4L400.9,281.2L402.2,281.1L403.4,281.1L404.7,281.3L406.0,281.3L407.3,281.1L408.5,281.4L409.8,281.1L411.1,281.4L412.3,281.4L413.6,281.3" stroke="#0072c6" stroke-width="3.00" fill="none" stroke-linejoin="round" stroke-linecap="round"/>
<path d="M45.5,306.1L46.8,306.1L48.0,306.0L49.3,306.3L50.6,306.2L51.8,305.9L53.1,306.3L54.4,306.4L55.7,306.0L56.9,306.4L58.2,306.1L59.5,305.9L60.7,306.2L62.0,306.0L63.3,306.2L64.5,306.2L65.8,305.9L67.1,306.1L68.3,306.3L69.6,306.1L70.9,306.1L71.2,306.2L71.5,306.2L71.8,306.3L72.2,306.3L72.5,306.3L72.8,306.2L73.1,306.1L73.4,306.1L73.7,306.1L74.1,306.1L74.4,306.1L74.7,306.1L75.0,306.1L75.3,306.1L75.6,306.1L76.0,306.1L76.3,306.2L76.6,306.2L76.9,306.3L77.2,306.3L77.6,306.2L77.9,306.1L78.2,306.0L78.5,305.9L78.8,305.9L79.1,305.9L79.5,305.9L79.8,305.9L80.1,306.0L80.4,306.1L80.7,306.2L81.0,306.3L81.4,306.2L81.7,306.2L82.0,306.2L82.3,306.1L82.6,306.1L82.9,306.1L83.3,306.0L83.6,306.0L83.9,306.1L84.2,306.2L84.5,306.2L84.8,306.3L85.2,306.3L85.5,306.3L85.8,306.3L86.1,306.3L86.4,306.3L86.8,306.2L87.1,306.2L87.4,306.1L87.7,306.2L88.0,306.3L88.3,306.3L88.7,306.4L89.0,306.4L89.3,306.3L89.6,306.3L89.9,306.3L91.2,306.2L92.5,306.0L93.7,305.8L95.0,306.2L96.3,306.2L96.6,300.2L96.9,295.6L97.2,292.1L97.5,289.4L97.9,287.5L98.2,286.0L98.5,284.9L98.8,284.1L99.1,283.4L99.4,282.9L99.8,282.6L100.1,282.3L100.4,282.1L100.7,281.9L101.0,281.7L101.3,281.5L101.7,281.5L102.0,281.6L102.3,281.6L102.6,281.6L102.9,281.6L103.3,281.5L103.6,281.5L103.9,281.5L104.2,281.4L104.5,281.4L104.8,281.4L105.2,281.3L105.5,281.3L105.8,281.3L106.1,281.2L106.4,281.2L106.7,281.2L107.1,281.3L107.4,281.4L107.7,281.4L108.0,281.4L108.3,281.4L108.6,281.3L109.0,281.3L109.3,281.4L109.6,281.4L109.9,281.5L110.2,281.5L110.6,281.5L110.9,281.4L111.2,281.3L111.5,281.2L111.8,281.2L112.1,281.3L112.5,281.3L112.8,281.3L113.1,281.3L113.4,281.3L113.7,281.2L114.0,281.2L114.4,281.2L114.7,281.3L115.0,281.3L115.3,281.3L116.6,281.4L117.9,281.2L119.1,281.1L120.4,281.4L121.7,281.2L122.9,281.4L124.2,281.2L125.5,281.2L126.7,281.4L128.0,281.7L129.3,281.6L130.5,281.4L131.8,281.3L133.1,281.1L134.4,282.8L134.7,282.3L135.0,281.9L135.3,281.7L135.6,281.5L135.9,281.5L136.3,281.5L136.6,281.5L136.9,281.5L137.2,281.3L137.5,281.1L137.8,280.9L138.2,280.7L138.5,280.8L138.8,280.9L139.1,280.9L139.4,281.0L139.7,280.8L140.1,280.7L140.4,280.5L140.7,280.4L141.0,280.3L141.3,280.2L141.7,280.1L142.0,280.1L142.3,280.0L142.6,279.8L142.9,279.7L143.2,279.6L143.6,279.7L143.9,279.7L144.2,279.7L144.5,279.7L144.8,279.5L145.1,279.3L145.5,279.1L145.8,278.9L146.1,278.9L146.4,278.9L146.7,278.8L147.0,278.8L147.4,278.7L147.7,278.6L148.0,278.5L148.3,278.4L148.6,278.3L148.9,278.2L149.3,278.0L149.6,277.9L149.9,277.8L150.2,277.7L150.5,277.7L150.9,277.6L151.2,277.6L151.5,277.6L151.8,277.7L152.1,277.7L152.4,277.6L152.8,277.4L153.1,277.3L153.4,277.2L154.7,276.8L155.9,276.6L157.2,275.8L158.5,275.8L159.7,275.5L160.1,275.3L160.4,275.1L160.7,275.0L161.0,274.8L161.3,274.7L161.6,274.7L162.0,274.6L162.3,274.6L162.6,274.6L162.9,274.6L163.2,274.5L163.5,274.5L163.9,274.4L164.2,274.2L164.5,274.0L164.8,273.8L165.1,273.8L165.4,273.8L165.8,273.7L166.1,273.7L166.4,273.5L166.7,273.4L167.0,273.2L167.4,273.0L167.7,273.0L168.0,273.0L168.3,273.0L168.6,273.0L168.9,272.8L169.3,272.7L169.6,272.5L169.9,272.4L170.2,272.3L170.5,272.3L170.8,272.2L171.2,272.2L171.5,272.1L171.8,272.0L172.1,271.8L172.4,271.7L172.7,271.7L173.1,271.7L173.4,271.7L173.7,271.7L174.0,271.6L174.3,271.5L174.7,271.4L175.0,271.3L175.3,271.1L175.6,271.0L175.9,270.9L176.2,270.8L176.6,270.7L176.9,270.7L177.2,270.6L177.5,270.5L177.8,270.4L178.1,270.3L178.5,270.2L178.8,270.0L180.0,269.9L181.3,269.2L182.6,269.1L183.9,268.7L185.1,268.3L186.4,267.7L187.7,267.4L188.9,267.4L190.2,266.8L191.5,266.7L192.7,266.2L194.0,266.2L195.3,265.7L196.5,265.3L197.8,264.8L199.1,264.2L200.4,264.2L201.6,263.9L202.9,263.7L204.2,262.9L205.4,262.5L206.7,262.7L208.0,262.2L209.2,261.7L210.5,261.5L211.8,260.8L213.0,260.7L214.3,260.4L215.6,260.0L216.9,259.4L218.1,259.0L219.4,259.0L220.7,258.8L221.9,258.0L223.2,257.6L223.5,257.5L223.8,257.4L224.2,257.4L224.5,257.3L224.8,257.4L225.1,257.4L225.4,257.5L225.7,257.6L226.1,257.5L226.4,257.4L226.7,257.3L227.0,257.2L227.3,257.2L227.6,257.2L228.0,257.2L228.3,257.1L228.6,257.2L228.9,257.3L229.2,257.3L229.6,257.4L229.9,257.3L230.2,257.3L230.5,257.2L230.8,257.1L231.1,257.1L231.5,257.0L231.8,257.0L232.1,256.9L232.4,257.0L232.7,257.0L233.0,257.1L233.4,257.2L233.7,257.0L234.0,256.9L234.3,256.8L234.6,256.7L234.9,256.8L235.3,256.8L235.6,256.8L235.9,256.9L236.2,256.9L236.5,257.0L236.8,257.1L237.2,257.1L237.5,257.0L237.8,257.0L238.1,256.9L238.4,256.8L238.8,256.8L239.1,256.8L239.4,256.7L239.7,256.7L240.0,256.8L240.3,256.9L240.7,256.9L241.0,257.0L241.3,257.0L241.6,257.0L241.9,256.9L242.2,256.9L243.5,257.3L244.8,256.8L246.1,257.2L247.3,256.9L248.6,257.2L249.9,257.0L251.1,257.1L252.4,256.9L253.7,256.8L254.9,257.0L256.2,257.2L257.5,256.9L258.7,256.8L260.0,256.9L261.3,256.8L262.6,256.9L263.8,257.0L265.1,257.0L266.4,257.1L267.6,256.9L268.9,256.7L270.2,256.7L271.4,256.9L272.7,256.8L274.0,257.0L275.2,256.9L276.5,257.2L277.8,257.1L279.1,257.1L280.3,257.1L281.6,257.0L282.9,257.0L284.1,256.9L285.4,256.7L286.7,257.2L287.0,257.1L287.3,257.1L287.6,257.0L287.9,257.0L288.3,256.9L288.6,256.9L288.9,256.8L289.2,256.8L289.5,256.9L289.8,257.0L290.2,257.1L290.5,257.3L290.8,257.2L291.1,257.2L291.4,257.1L291.7,257.0L292.1,257.1L292.4,257.1L292.7,257.1L293.0,257.1L293.3,257.0L293.7,257.0L294.0,257.0L294.3,257.0L294.6,256.9L294.9,256.9L295.2,256.8L295.6,256.8L295.9,256.9L296.2,257.0L296.5,257.2L296.8,257.3L297.1,257.2L297.5,257.1L297.8,256.9L298.1,256.8L298.4,256.8L298.7,256.9L299.0,256.9L299.4,256.9L299.7,257.0L300.0,257.1L300.3,257.2L300.6,257.3L300.9,257.2L301.3,257.0L301.6,256.9L301.9,256.8L302.2,256.8L302.5,256.9L302.9,256.9L303.2,257.0L303.5,257.0L303.8,257.0L304.1,257.0L304.4,257.0L304.8,257.0L305.1,256.9L305.4,256.9L305.7,256.8L307.0,257.3L308.2,256.9L309.5,256.7L310.8,257.0L312.1,256.7L313.3,257.1L314.6,257.2L315.9,257.2L317.1,256.7L318.4,257.1L319.7,256.9L320.9,257.0L322.2,256.9L323.5,256.9L324.7,256.8L326.0,257.1L327.3,256.8L328.6,257.3L329.8,256.7L331.1,257.3L332.4,256.8L333.6,256.8L334.9,257.1L336.2,257.0L337.4,257.2L338.7,257.0L340.0,257.1L341.2,256.7L342.5,257.1L343.8,257.0L345.1,257.3L346.3,256.7L347.6,256.7L348.9,257.1L350.1,257.3L351.4,257.0L352.7,257.1L353.9,257.0L355.2,256.9L356.5,257.0L357.8,257.1L359.0,256.7L360.3,256.9L361.6,257.1L362.8,256.9L364.1,257.0L365.4,256.9L366.6,256.9L367.9,257.1L369.2,257.1L370.4,257.3L371.7,257.0L373.0,256.8L374.3,256.9L375.5,256.7L376.8,256.8L378.1,257.1L379.3,257.1L380.6,256.8L381.9,256.8L383.1,256.8L384.4,256.8L385.7,257.0L386.9,256.9L388.2,257.2L389.5,257.0L390.8,256.9L392.0,257.0L393.3,256.7L394.6,257.1L395.8,257.2L397.1,256.9L398.4,257.1L399.6,256.9L400.9,256.8L402.2,256.8L403.4,256.8L404.7,257.1L406.0,257.1L407.3,257.1L408.5,256.8L409.8,257.2L411.1,257.0L412.3,256.9L413.6,257.0" stroke="#f74f0c" stroke-width="3.00" fill="none" stroke-linejoin="round" stroke-linecap="round"/>
<path d="M45.5,268.8L46.8,269.1L48.0,268.6L49.3,269.0L50.6,269.0L51.8,268.6L53.1,268.9L54.4,269.1L55.7,268.7L56.9,269.0L58.2,269.0L59.5,268.8L60.7,268.6L62.0,268.6L63.3,269.0L64.5,268.8L65.8,268.7L67.1,268.8L68.3,269.1L69.6,268.7L70.9,268.5L71.2,268.7L71.5,268.8L71.8,268.9L72.2,269.1L72.5,269.0L72.8,268.9L73.1,268.8L73.4,268.7L73.7,268.7L74.1,268.7L74.4,268.7L74.7,268.7L75.0,268.8L75.3,268.9L75.6,269.0L76.0,269.1L76.3,269.0L76.6,268.9L76.9,268.8L77.2,268.7L77.6,268.6L77.9,268.6L78.2,268.6L78.5,268.6L78.8,268.7L79.1,268.8L79.5,268.9L79.8,269.0L80.1,268.9L80.4,268.8L80.7,268.7L81.0,268.6L81.4,268.6L81.7,268.6L82.0,268.6L82.3,268.6L82.6,268.7L82.9,268.8L83.3,269.0L83.6,269.1L83.9,269.0L84.2,268.9L84.5,268.7L84.8,268.6L85.2,268.7L85.5,268.8L85.8,268.9L86.1,269.0L86.4,269.0L86.8,268.9L87.1,268.8L87.4,268.7L87.7,268.7L88.0,268.7L88.3,268.7L88.7,268.7L89.0,268.7L89.3,268.7L89.6,268.6L89.9,268.6L91.2,268.8L92.5,268.8L93.7,268.7L95.0,268.8L96.3,268.7L96.6,268.8L96.9,268.8L97.2,268.9L97.5,269.0L97.9,269.0L98.2,269.0L98.5,269.0L98.8,269.1L99.1,269.0L99.4,269.0L99.8,269.0L100.1,269.0L100.4,269.0L100.7,269.0L101.0,269.0L101.3,269.0L101.7,268.9L102.0,268.8L102.3,268.7L102.6,268.5L102.9,268.6L103.3,268.6L103.6,268.6L103.9,268.7L104.2,268.6L104.5,268.6L104.8,268.6L105.2,268.6L105.5,268.6L105.8,268.6L106.1,268.6L106.4,268.6L106.7,268.7L107.1,268.8L107.4,269.0L107.7,269.1L108.0,269.1L108.3,269.1L108.6,269.1L109.0,269.0L109.3,269.0L109.6,269.0L109.9,269.0L110.2,269.0L110.6,269.0L110.9,268.9L111.2,268.9L111.5,268.8L111.8,268.8L112.1,268.7L112.5,268.6L112.8,268.6L113.1,268.6L113.4,268.7L113.7,268.7L114.0,268.8L114.4,268.7L114.7,268.6L115.0,268.6L115.3,268.5L116.6,269.0L117.9,268.7L119.1,268.7L120.4,269.1L121.7,268.6L122.9,269.1L124.2,268.7L125.5,268.9L126.7,268.6L128.0,269.0L129.3,268.7L130.5,268.7L131.8,268.9L133.1,268.9L134.4,268.7L134.7,259.6L135.0,252.8L135.3,247.6L135.6,243.6L135.9,240.7L136.3,238.5L136.6,236.9L136.9,235.7L137.2,234.6L137.5,233.8L137.8,233.1L138.2,232.6L138.5,232.4L138.8,232.3L139.1,232.3L139.4,232.3L139.7,232.1L140.1,231.9L140.4,231.8L140.7,231.7L141.0,231.6L141.3,231.5L141.7,231.5L142.0,231.4L142.3,231.5L142.6,231.5L142.9,231.5L143.2,231.5L143.6,231.5L143.9,231.4L144.2,231.4L144.5,231.4L144.8,231.4L145.1,231.4L145.5,231.5L145.8,231.5L146.1,231.5L146.4,231.6L146.7,231.6L147.0,231.6L147.4,231.6L147.7,231.6L148.0,231.6L148.3,231.5L148.6,231.5L148.9,231.5L149.3,231.5L149.6,231.5L149.9,231.5L150.2,231.5L150.5,231.5L150.9,231.5L151.2,231.5L151.5,231.5L151.8,231.6L152.1,231.6L152.4,231.6L152.8,231.7L153.1,231.7L153.4,231.8L154.7,231.6L155.9,231.8L157.2,231.6L158.5,231.4L159.7,231.4L160.1,231.5L160.4,231.6L160.7,231.7L161.0,231.8L161.3,231.8L161.6,231.7L162.0,231.6L162.3,231.6L162.6,231.6L162.9,231.6L163.2,231.5L163.5,231.5L163.9,231.5L164.2,231.6L164.5,231.6L164.8,231.6L165.1,231.7L165.4,231.7L165.8,231.8L166.1,231.8L166.4,231.7L166.7,231.7L167.0,231.6L167.4,231.5L167.7,231.5L168.0,231.5L168.3,231.5L168.6,231.5L168.9,231.5L169.3,231.5L169.6,231.5L169.9,231.5L170.2,231.5L170.5,231.4L170.8,231.4L171.2,231.3L171.5,231.4L171.8,231.5L172.1,231.5L172.4,231.6L172.7,231.6L173.1,231.6L173.4,231.6L173.7,231.6L174.0,231.6L174.3,231.6L174.7,231.6L175.0,231.6L175.3,231.6L175.6,231.6L175.9,231.6L176.2,231.6L176.6,231.6L176.9,231.6L177.2,231.6L177.5,231.6L177.8,231.6L178.1,231.7L178.5,231.7L178.8,231.7L180.0,231.4L181.3,231.9L182.6,231.4L183.9,231.8L185.1,231.4L186.4,231.8L187.7,231.5L188.9,231.3L190.2,231.6L191.5,231.8L192.7,231.8L194.0,231.8L195.3,231.9L196.5,231.3L197.8,231.5L199.1,231.4L200.4,231.8L201.6,231.6L202.9,231.7L204.2,231.8L205.4,231.9L206.7,231.7L208.0,231.8L209.2,231.6L210.5,231.3L211.8,231.8L213.0,231.4L214.3,231.4L215.6,231.8L216.9,231.5L218.1,231.7L219.4,231.3L220.7,231.4L221.9,231.7L223.2,231.3L223.5,231.4L223.8,231.4L224.2,231.5L224.5,231.5L224.8,231.5L225.1,231.6L225.4,231.6L225.7,231.6L226.1,231.4L226.4,231.2L226.7,231.0L227.0,230.8L227.3,230.8L227.6,230.8L228.0,230.8L228.3,230.8L228.6,230.7L228.9,230.6L229.2,230.5L229.6,230.4L229.9,230.3L230.2,230.2L230.5,230.1L230.8,229.9L231.1,229.9L231.5,229.8L231.8,229.7L232.1,229.6L232.4,229.5L232.7,229.4L233.0,229.2L233.4,229.1L233.7,228.9L234.0,228.7L234.3,228.5L234.6,228.2L234.9,228.2L235.3,228.1L235.6,228.0L235.9,227.9L236.2,227.8L236.5,227.8L236.8,227.7L237.2,227.6L237.5,227.6L237.8,227.5L238.1,227.5L238.4,227.4L238.8,227.2L239.1,227.0L239.4,226.8L239.7,226.5L240.0,226.5L240.3,226.4L240.7,226.3L241.0,226.3L241.3,226.1L241.6,225.9L241.9,225.7L242.2,225.5L243.5,225.5L244.8,224.8L246.1,224.4L247.3,224.0L248.6,223.2L249.9,223.1L251.1,222.7L252.4,222.3L253.7,221.4L254.9,221.0L256.2,220.4L257.5,220.4L258.7,219.7L260.0,219.2L261.3,218.8L262.6,218.4L263.8,217.7L265.1,217.3L266.4,217.1L267.6,216.6L268.9,215.9L270.2,215.3L271.4,215.3L272.7,214.7L274.0,214.2L275.2,213.6L276.5,213.5L277.8,212.7L279.1,212.1L280.3,211.6L281.6,211.2L282.9,210.9L284.1,210.3L285.4,210.2L286.7,209.6L287.0,209.4L287.3,209.3L287.6,209.2L287.9,209.1L288.3,209.0L288.6,209.0L288.9,208.9L289.2,208.9L289.5,208.9L289.8,208.8L290.2,208.8L290.5,208.7L290.8,208.7L291.1,208.7L291.4,208.6L291.7,208.6L292.1,208.6L292.4,208.5L292.7,208.5L293.0,208.5L293.3,208.4L293.7,208.4L294.0,208.4L294.3,208.4L294.6,208.4L294.9,208.4L295.2,208.4L295.6,208.4L295.9,208.4L296.2,208.5L296.5,208.5L296.8,208.5L297.1,208.4L297.5,208.3L297.8,208.2L298.1,208.1L298.4,208.2L298.7,208.3L299.0,208.4L299.4,208.5L299.7,208.4L300.0,208.3L300.3,208.3L300.6,208.2L300.9,208.3L301.3,208.4L301.6,208.4L301.9,208.5L302.2,208.4L302.5,208.3L302.9,208.2L303.2,208.1L303.5,208.1L303.8,208.2L304.1,208.2L304.4,208.3L304.8,208.3L305.1,208.3L305.4,208.3L305.7,208.3L307.0,208.4L308.2,208.1L309.5,208.2L310.8,208.1L312.1,208.3L313.3,208.3L314.6,208.0L315.9,208.1L317.1,208.1L318.4,208.6L319.7,208.3L320.9,208.3L322.2,208.2L323.5,208.4L324.7,208.5L326.0,208.4L327.3,208.0L328.6,208.3L329.8,208.3L331.1,208.0L332.4,208.5L333.6,208.2L334.9,208.2L336.2,208.4L337.4,208.4L338.7,208.3L340.0,208.5L341.2,208.3L342.5,208.2L343.8,208.0L345.1,208.3L346.3,208.2L347.6,208.3L348.9,208.2L350.1,208.0L351.4,208.0L352.7,208.1L353.9,208.1L355.2,208.5L356.5,208.3L357.8,208.1L359.0,208.4L360.3,208.4L361.6,208.0L362.8,208.5L364.1,208.1L365.4,208.6L366.6,208.1L367.9,208.2L369.2,208.1L370.4,208.5L371.7,208.5L373.0,208.3L374.3,208.1L375.5,208.3L376.8,208.4L378.1,208.0L379.3,208.6L380.6,208.5L381.9,208.6L383.1,208.4L384.4,208.4L385.7,208.6L386.9,208.2L388.2,208.2L389.5,208.1L390.8,208.1L392.0,208.5L393.3,208.1L394.6,208.4L395.8,208.2L397.1,208.5L398.4,208.5L399.6,208.4L400.9,208.5L402.2,208.0L403.4,208.2L404.7,208.2L406.0,208.3L407.3,208.4L408.5,208.5L409.8,208.4L411.1,208.6L412.3,208.4L413.6,208.3" stroke="#fdaa00" stroke-width="3.00" fill="none" stroke-linejoin="round" stroke-linecap="round"/>
<path d="M96.27,331.00v-4.2M96.27,201.00v4.2M159.74,331.00v-4.2M159.74,201.00v4.2M223.20,331.00v-4.2M223.20,201.00v4.2M286.67,331.00v-4.2M286.67,201.00v4.2M350.13,331.00v-4.2M350.13,201.00v4.2M45.50,287.67h4.2M413.60,287.67h-4.2M45.50,244.33h4.2M413.60,244.33h-4.2" stroke="#5a5a5a" stroke-width="1.1" fill="none"/>
<rect x="45.50" y="201.00" width="368.10" height="130.00" fill="none" stroke="#5a5a5a" stroke-width="1.2"/>
<text x="96.27" y="345.20" font-size="10.60" fill="#262626" text-anchor="middle">5</text>
<text x="159.74" y="345.20" font-size="10.60" fill="#262626" text-anchor="middle">10</text>
<text x="223.20" y="345.20" font-size="10.60" fill="#262626" text-anchor="middle">15</text>
<text x="286.67" y="345.20" font-size="10.60" fill="#262626" text-anchor="middle">20</text>
<text x="350.13" y="345.20" font-size="10.60" fill="#262626" text-anchor="middle">25</text>
<text x="413.60" y="345.20" font-size="10.60" fill="#262626" text-anchor="middle">30</text>
<text x="42.30" y="335.70" font-size="10.60" fill="#262626" text-anchor="end">0</text>
<text x="42.30" y="292.37" font-size="10.60" fill="#262626" text-anchor="end">5</text>
<text x="42.30" y="249.03" font-size="10.60" fill="#262626" text-anchor="end">10</text>
<text x="42.30" y="205.70" font-size="10.60" fill="#262626" text-anchor="end">15</text>
<text y="198.20" fill="#262626"><tspan x="45.9" dy="1.8" font-size="13.5">×</tspan><tspan x="54.3" dy="-1.8" font-size="10">10</tspan><tspan x="65.9" font-size="8.6" dy="-5.5">4</tspan></text>
<text x="229.95" y="196.60" font-size="14.20" font-weight="bold" fill="#000" stroke="#000" stroke-width="0.25" text-anchor="middle">(b) d-axis currents</text>
<path d="M96.27,381.70V511.70M159.74,381.70V511.70M223.20,381.70V511.70M286.67,381.70V511.70M350.13,381.70V511.70M45.50,479.20H413.60M45.50,446.70H413.60M45.50,414.20H413.60" stroke="#e5e5e5" stroke-width="1" fill="none"/>
<path d="M45.5,399.3L46.8,399.3L48.0,399.1L49.3,399.3L50.6,399.3L51.8,399.6L53.1,399.5L54.4,399.4L55.7,399.5L56.9,399.5L58.2,399.1L59.5,399.5L60.7,399.5L62.0,399.6L63.3,399.5L64.5,399.2L65.8,399.1L67.1,399.4L68.3,399.1L69.6,399.5L70.9,398.3L71.2,398.7L71.5,398.9L71.8,399.1L72.2,399.2L72.5,399.2L72.8,399.1L73.1,399.1L73.4,399.0L73.7,399.0L74.1,399.0L74.4,399.0L74.7,399.0L75.0,399.1L75.3,399.2L75.6,399.3L76.0,399.3L76.3,399.3L76.6,399.3L76.9,399.2L77.2,399.2L77.6,399.2L77.9,399.1L78.2,399.1L78.5,399.0L78.8,399.1L79.1,399.1L79.5,399.1L79.8,399.1L80.1,399.1L80.4,399.1L80.7,399.1L81.0,399.1L81.4,399.1L81.7,399.1L82.0,399.2L82.3,399.2L82.6,399.2L82.9,399.1L83.3,399.1L83.6,399.1L83.9,399.1L84.2,399.0L84.5,399.0L84.8,399.0L85.2,399.1L85.5,399.2L85.8,399.3L86.1,399.4L86.4,399.4L86.8,399.4L87.1,399.3L87.4,399.3L87.7,399.3L88.0,399.3L88.3,399.3L88.7,399.3L89.0,399.2L89.3,399.1L89.6,399.0L89.9,399.0L91.2,398.9L92.5,399.2L93.7,399.3L95.0,399.2L96.3,397.6L96.6,398.0L96.9,398.3L97.2,398.5L97.5,398.6L97.9,398.6L98.2,398.6L98.5,398.6L98.8,398.6L99.1,398.6L99.4,398.6L99.8,398.6L100.1,398.6L100.4,398.6L100.7,398.6L101.0,398.7L101.3,398.7L101.7,398.7L102.0,398.7L102.3,398.6L102.6,398.6L102.9,398.7L103.3,398.7L103.6,398.7L103.9,398.7L104.2,398.8L104.5,398.8L104.8,398.8L105.2,398.8L105.5,398.9L105.8,398.9L106.1,398.9L106.4,399.0L106.7,398.8L107.1,398.7L107.4,398.6L107.7,398.5L108.0,398.5L108.3,398.6L108.6,398.7L109.0,398.7L109.3,398.8L109.6,398.9L109.9,398.9L110.2,399.0L110.6,398.9L110.9,398.9L111.2,398.9L111.5,398.8L111.8,398.8L112.1,398.8L112.5,398.8L112.8,398.8L113.1,398.8L113.4,398.9L113.7,398.9L114.0,399.0L114.4,398.8L114.7,398.7L115.0,398.6L115.3,398.5L116.6,398.9L117.9,398.8L119.1,398.8L120.4,398.7L121.7,398.9L122.9,398.6L124.2,398.8L125.5,398.7L126.7,399.1L128.0,399.0L129.3,398.8L130.5,399.0L131.8,398.8L133.1,398.9L134.4,398.1L134.7,397.9L135.0,397.9L135.3,397.9L135.6,397.9L135.9,397.9L136.3,397.8L136.6,397.8L136.9,397.8L137.2,397.8L137.5,397.8L137.8,397.8L138.2,397.8L138.5,397.7L138.8,397.6L139.1,397.5L139.4,397.3L139.7,397.5L140.1,397.6L140.4,397.7L140.7,397.8L141.0,397.7L141.3,397.5L141.7,397.4L142.0,397.3L142.3,397.4L142.6,397.5L142.9,397.6L143.2,397.6L143.6,397.6L143.9,397.6L144.2,397.6L144.5,397.6L144.8,397.5L145.1,397.5L145.5,397.4L145.8,397.3L146.1,397.4L146.4,397.4L146.7,397.5L147.0,397.5L147.4,397.6L147.7,397.7L148.0,397.8L148.3,397.8L148.6,397.8L148.9,397.7L149.3,397.7L149.6,397.7L149.9,397.6L150.2,397.6L150.5,397.5L150.9,397.5L151.2,397.6L151.5,397.6L151.8,397.7L152.1,397.8L152.4,397.7L152.8,397.6L153.1,397.6L153.4,397.5L154.7,397.8L155.9,397.5L157.2,397.3L158.5,397.9L159.7,397.3L160.1,397.4L160.4,397.4L160.7,397.4L161.0,397.4L161.3,397.5L161.6,397.6L162.0,397.7L162.3,397.7L162.6,397.6L162.9,397.5L163.2,397.4L163.5,397.4L163.9,397.4L164.2,397.5L164.5,397.5L164.8,397.6L165.1,397.7L165.4,397.7L165.8,397.7L166.1,397.8L166.4,397.8L166.7,397.7L167.0,397.7L167.4,397.6L167.7,397.6L168.0,397.6L168.3,397.5L168.6,397.5L168.9,397.5L169.3,397.6L169.6,397.7L169.9,397.7L170.2,397.7L170.5,397.8L170.8,397.8L171.2,397.8L171.5,397.7L171.8,397.7L172.1,397.7L172.4,397.6L172.7,397.6L173.1,397.6L173.4,397.6L173.7,397.7L174.0,397.6L174.3,397.6L174.7,397.5L175.0,397.5L175.3,397.5L175.6,397.5L175.9,397.5L176.2,397.5L176.6,397.6L176.9,397.7L177.2,397.8L177.5,397.9L177.8,397.9L178.1,397.9L178.5,397.9L178.8,397.9L180.0,397.3L181.3,397.4L182.6,397.4L183.9,397.7L185.1,397.4L186.4,397.4L187.7,397.7L188.9,397.4L190.2,397.8L191.5,397.5L192.7,397.8L194.0,397.8L195.3,397.4L196.5,397.7L197.8,397.5L199.1,397.4L200.4,397.3L201.6,397.7L202.9,397.6L204.2,397.4L205.4,397.8L206.7,397.4L208.0,397.5L209.2,397.3L210.5,397.5L211.8,397.8L213.0,397.5L214.3,397.3L215.6,397.4L216.9,397.6L218.1,397.4L219.4,397.8L220.7,397.3L221.9,397.8L223.2,397.6L223.5,397.6L223.8,397.7L224.2,397.7L224.5,397.7L224.8,397.7L225.1,397.6L225.4,397.5L225.7,397.4L226.1,397.4L226.4,397.4L226.7,397.3L227.0,397.3L227.3,397.3L227.6,397.3L228.0,397.3L228.3,397.3L228.6,397.4L228.9,397.5L229.2,397.5L229.6,397.6L229.9,397.5L230.2,397.4L230.5,397.3L230.8,397.2L231.1,397.3L231.5,397.3L231.8,397.3L232.1,397.3L232.4,397.4L232.7,397.5L233.0,397.6L233.4,397.7L233.7,397.7L234.0,397.7L234.3,397.7L234.6,397.8L234.9,397.8L235.3,397.8L235.6,397.7L235.9,397.7L236.2,397.7L236.5,397.7L236.8,397.7L237.2,397.7L237.5,397.7L237.8,397.6L238.1,397.6L238.4,397.6L238.8,397.6L239.1,397.7L239.4,397.7L239.7,397.8L240.0,397.7L240.3,397.7L240.7,397.7L241.0,397.6L241.3,397.6L241.6,397.6L241.9,397.6L242.2,397.6L243.5,397.5L244.8,397.2L246.1,397.3L247.3,397.4L248.6,397.5L249.9,397.3L251.1,397.8L252.4,397.6L253.7,397.7L254.9,397.8L256.2,397.4L257.5,397.7L258.7,397.8L260.0,397.4L261.3,397.3L262.6,397.7L263.8,397.7L265.1,397.7L266.4,397.5L267.6,397.6L268.9,397.3L270.2,397.3L271.4,397.5L272.7,397.7L274.0,397.3L275.2,397.8L276.5,397.2L277.8,397.8L279.1,397.3L280.3,397.7L281.6,397.7L282.9,397.8L284.1,397.5L285.4,397.6L286.7,397.4L287.0,397.4L287.3,397.5L287.6,397.6L287.9,397.7L288.3,397.6L288.6,397.5L288.9,397.4L289.2,397.3L289.5,397.4L289.8,397.5L290.2,397.6L290.5,397.7L290.8,397.7L291.1,397.6L291.4,397.6L291.7,397.5L292.1,397.5L292.4,397.4L292.7,397.3L293.0,397.2L293.3,397.4L293.7,397.5L294.0,397.6L294.3,397.8L294.6,397.7L294.9,397.6L295.2,397.5L295.6,397.4L295.9,397.3L296.2,397.3L296.5,397.3L296.8,397.2L297.1,397.3L297.5,397.3L297.8,397.3L298.1,397.3L298.4,397.3L298.7,397.3L299.0,397.2L299.4,397.2L299.7,397.2L300.0,397.3L300.3,397.3L300.6,397.4L300.9,397.4L301.3,397.5L301.6,397.5L301.9,397.6L302.2,397.6L302.5,397.7L302.9,397.7L303.2,397.8L303.5,397.7L303.8,397.7L304.1,397.6L304.4,397.6L304.8,397.6L305.1,397.6L305.4,397.7L305.7,397.7L307.0,397.7L308.2,397.6L309.5,397.4L310.8,397.3L312.1,397.3L313.3,397.5L314.6,397.3L315.9,397.6L317.1,397.4L318.4,397.5L319.7,397.5L320.9,397.5L322.2,397.3L323.5,397.3L324.7,397.6L326.0,397.3L327.3,397.6L328.6,397.7L329.8,397.4L331.1,397.7L332.4,397.5L333.6,397.7L334.9,397.5L336.2,397.6L337.4,397.6L338.7,397.3L340.0,397.5L341.2,397.5L342.5,397.4L343.8,397.5L345.1,397.7L346.3,397.6L347.6,397.6L348.9,397.2L350.1,397.6L351.4,397.5L352.7,397.7L353.9,397.1L355.2,397.2L356.5,397.7L357.8,397.4L359.0,397.6L360.3,397.5L361.6,397.4L362.8,397.4L364.1,397.5L365.4,397.7L366.6,397.5L367.9,397.6L369.2,397.3L370.4,397.6L371.7,397.5L373.0,397.6L374.3,397.7L375.5,397.2L376.8,397.7L378.1,397.5L379.3,397.3L380.6,397.4L381.9,397.2L383.1,397.3L384.4,397.6L385.7,397.5L386.9,397.6L388.2,397.2L389.5,397.2L390.8,397.3L392.0,397.4L393.3,397.5L394.6,397.3L395.8,397.6L397.1,397.5L398.4,397.3L399.6,397.6L400.9,397.2L402.2,397.5L403.4,397.2L404.7,397.1L406.0,397.4L407.3,397.4L408.5,397.5L409.8,397.3L411.1,397.7L412.3,397.6L413.6,397.4" stroke="#0072c6" stroke-width="3.00" fill="none" stroke-linejoin="round" stroke-linecap="round"/>
<path d="M96.27,511.70v-4.2M96.27,381.70v4.2M159.74,511.70v-4.2M159.74,381.70v4.2M223.20,511.70v-4.2M223.20,381.70v4.2M286.67,511.70v-4.2M286.67,381.70v4.2M350.13,511.70v-4.2M350.13,381.70v4.2M45.50,479.20h4.2M413.60,479.20h-4.2M45.50,446.70h4.2M413.60,446.70h-4.2M45.50,414.20h4.2M413.60,414.20h-4.2" stroke="#5a5a5a" stroke-width="1.1" fill="none"/>
<rect x="45.50" y="381.70" width="368.10" height="130.00" fill="none" stroke="#5a5a5a" stroke-width="1.2"/>
<text x="96.27" y="525.90" font-size="10.60" fill="#262626" text-anchor="middle">5</text>
<text x="159.74" y="525.90" font-size="10.60" fill="#262626" text-anchor="middle">10</text>
<text x="223.20" y="525.90" font-size="10.60" fill="#262626" text-anchor="middle">15</text>
<text x="286.67" y="525.90" font-size="10.60" fill="#262626" text-anchor="middle">20</text>
<text x="350.13" y="525.90" font-size="10.60" fill="#262626" text-anchor="middle">25</text>
<text x="413.60" y="525.90" font-size="10.60" fill="#262626" text-anchor="middle">30</text>
<text x="42.30" y="516.40" font-size="10.60" fill="#262626" text-anchor="end">0</text>
<text x="42.30" y="483.90" font-size="10.60" fill="#262626" text-anchor="end">0.5</text>
<text x="42.30" y="451.40" font-size="10.60" fill="#262626" text-anchor="end">1</text>
<text x="42.30" y="418.90" font-size="10.60" fill="#262626" text-anchor="end">1.5</text>
<text x="42.30" y="386.40" font-size="10.60" fill="#262626" text-anchor="end">2</text>
<text y="378.90" fill="#262626"><tspan x="45.9" dy="1.8" font-size="13.5">×</tspan><tspan x="54.3" dy="-1.8" font-size="10">10</tspan><tspan x="65.9" font-size="8.6" dy="-5.5">4</tspan></text>
<text x="229.95" y="377.30" font-size="14.20" font-weight="bold" fill="#000" stroke="#000" stroke-width="0.25" text-anchor="middle">(c) d-axis voltage</text>
<rect x="46.2" y="21.20" width="61.40" height="58.20" fill="#fff" stroke="#6a6a6a" stroke-width="1.3"/>
<rect x="46.2" y="201.60" width="63.20" height="58.40" fill="#fff" stroke="#6a6a6a" stroke-width="1.3"/>
<path d="M50.6,32.90H88.8" stroke="#0072c6" stroke-width="3.00"/>
<text x="91.6" y="34.50" font-size="10.60" fill="#000">P<tspan font-size="8.20" dy="5.4">1</tspan></text>
<path d="M50.6,50.60H88.8" stroke="#f74f0c" stroke-width="3.00"/>
<text x="91.6" y="52.20" font-size="10.60" fill="#000">P<tspan font-size="8.20" dy="5.4">2</tspan></text>
<path d="M50.6,69.00H88.8" stroke="#fdaa00" stroke-width="3.00"/>
<text x="91.6" y="70.60" font-size="10.60" fill="#000">P<tspan font-size="8.20" dy="5.4">3</tspan></text>
<path d="M50.6,212.60H88.8" stroke="#0072c6" stroke-width="3.00"/>
<text x="92.2" y="215.20" font-size="10.60" fill="#000">I<tspan font-size="8.6" dy="5.2" font-weight="bold" letter-spacing="0.3" style="stroke-width:0.15px">d1</tspan></text>
<path d="M50.6,230.90H88.8" stroke="#f74f0c" stroke-width="3.00"/>
<text x="92.2" y="233.50" font-size="10.60" fill="#000">I<tspan font-size="8.6" dy="5.2" font-weight="bold" letter-spacing="0.3" style="stroke-width:0.15px">d2</tspan></text>
<path d="M50.6,249.60H88.8" stroke="#fdaa00" stroke-width="3.00"/>
<text x="92.2" y="252.20" font-size="10.60" fill="#000">I<tspan font-size="8.6" dy="5.2" font-weight="bold" letter-spacing="0.3" style="stroke-width:0.15px">d3</tspan></text>
<text transform="translate(30.1,85.8) rotate(-90)" font-size="15.50" fill="#262626" text-anchor="middle">P [W]</text>
<text transform="translate(17.7,266.6) rotate(-90)" font-size="15.50" fill="#262626" text-anchor="middle">I<tspan font-size="11.00" dx="0.9" dy="7.60">d</tspan><tspan dy="-7.60"> [A]</tspan></text>
<text transform="translate(14.9,447.7) rotate(-90)" font-size="15.50" fill="#262626" text-anchor="middle">V<tspan font-size="11.00" dx="0.9" dy="7.60">d</tspan><tspan dy="-7.60"> [V]</tspan></text>
<text x="229.55" y="542.7" font-size="14.00" fill="#262626" text-anchor="middle">Time [s]</text>
</svg></body></html>
